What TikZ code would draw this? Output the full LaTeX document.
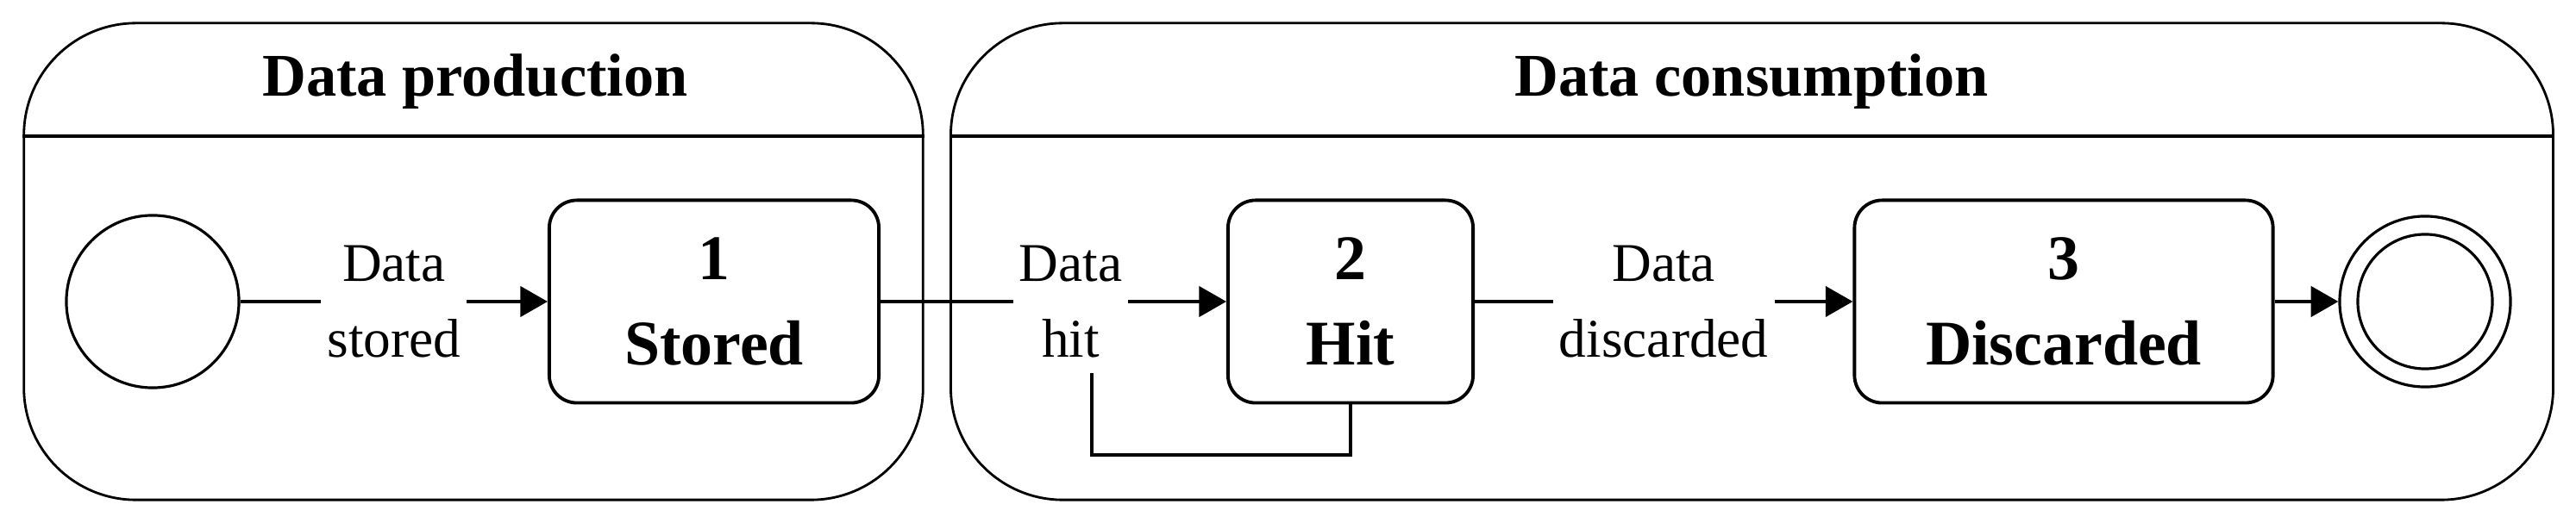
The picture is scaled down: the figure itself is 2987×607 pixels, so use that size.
\documentclass[tikz,border=0pt]{standalone}
\usepackage{fontspec}
\setmainfont{Liberation Serif}
\usetikzlibrary{arrows.meta}
\begin{document}
\begin{tikzpicture}[x=0.01cm,y=-0.01cm,
  lane/.style={draw,line width=0.8pt,rounded corners=1.3cm,inner sep=0pt},
  state/.style={draw,line width=1.1pt,rounded corners=0.32cm,inner sep=0pt,minimum height=2.35cm,align=center,font=\fontsize{21}{28}\selectfont\bfseries},
  lbl/.style={fill=white,align=center,inner sep=2pt,font=\fontsize{18}{25}\selectfont},
  title/.style={font=\fontsize{20}{24}\selectfont\bfseries},
  flow/.style={line width=1.1pt,-{Triangle[length=9pt,width=10pt]}},
  plain/.style={line width=1.1pt}]
\useasboundingbox (0,0) rectangle (2987,607);
\node[lane,minimum width=10.42cm,minimum height=5.53cm] (lane1) at (549,303.5) {};
\node[lane,minimum width=18.57cm,minimum height=5.53cm] (lane2) at (2031.5,303.5) {};
\draw[line width=1.2pt] (lane1.west |- 0,158) -- (lane1.east |- 0,158);
\draw[line width=1.2pt] (lane2.west |- 0,158) -- (lane2.east |- 0,158);
\node[title] (t1) at (551,95) {Data production};
\node[title] (t2) at (2031,95) {Data consumption};
\node[draw,line width=0.9pt,circle,minimum size=2cm,inner sep=0pt] (start) at (177,350) {};
\node[state,minimum width=3.82cm] (s1) at (828,350) {1\\Stored};
\node[state,minimum width=2.84cm] (s2) at (1566,350) {2\\Hit};
\node[state,minimum width=4.85cm] (s3) at (2393,350) {3\\Discarded};
\node[draw,line width=0.9pt,circle,minimum size=1.98cm,inner sep=0pt] (end) at (2812,350) {};
\node[draw,line width=0.9pt,circle,minimum size=1.56cm,inner sep=0pt] at (end.center) {};
\draw[flow] (start) -- node[lbl] {Data\\stored} (s1);
\draw[flow] (s1) -- node[lbl,pos=0.55] (hl) {Data\\hit} (s2);
\draw[flow] (s2) -- node[lbl] {Data\\discarded} (s3);
\draw[flow] (s3) -- (end);
\coordinate (loopend) at (1266,433);
\draw[plain] (s2.south) |- (1266,528) -- (loopend);
\end{tikzpicture}
\end{document}
